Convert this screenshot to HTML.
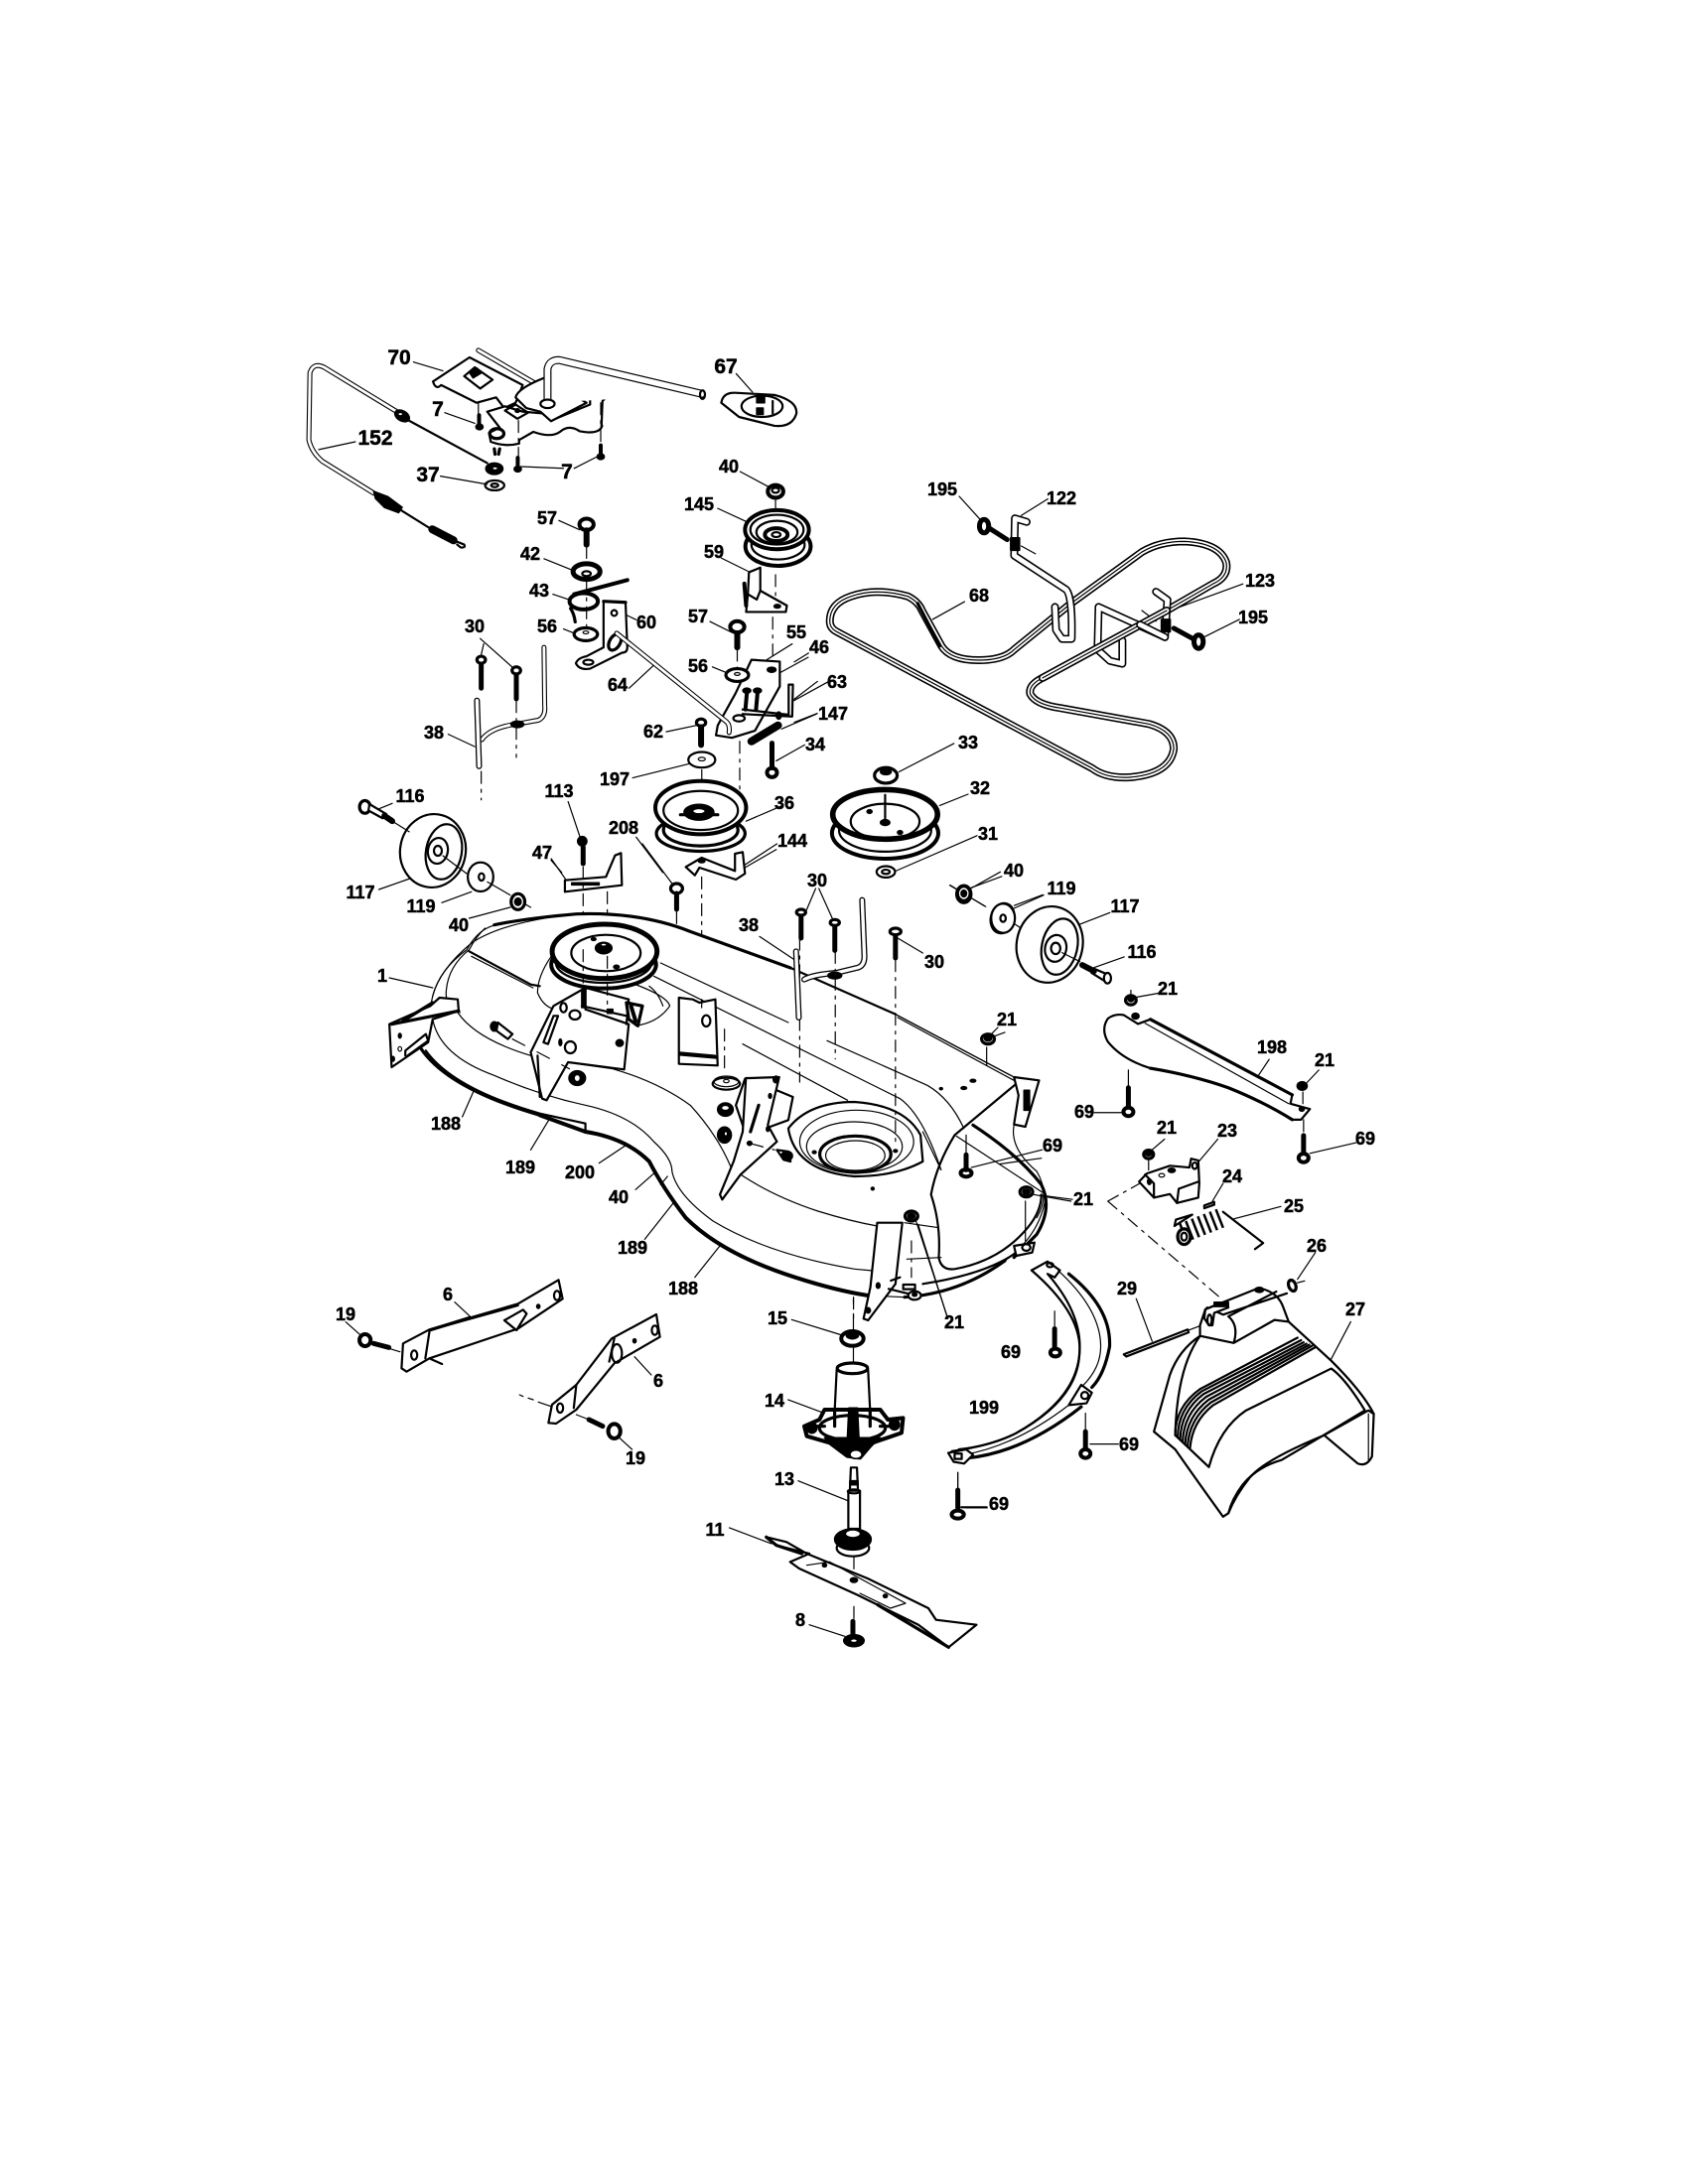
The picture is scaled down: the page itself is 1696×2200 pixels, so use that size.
<!DOCTYPE html>
<html><head><meta charset="utf-8"><style>
html,body{margin:0;padding:0;background:#fff;width:1696px;height:2200px;overflow:hidden}
svg{display:block}
path,line,ellipse,polyline,polygon,rect{vector-effect:non-scaling-stroke;stroke:#000;stroke-width:1.6;fill:none;stroke-linejoin:round;stroke-linecap:round}
.f{fill:#fff}.b{fill:#000}
.k1{stroke-width:1.2}.k2{stroke-width:2.2}.k3{stroke-width:3.2}.k4{stroke-width:4}.k5{stroke-width:5}.k6{stroke-width:6}.k7{stroke-width:8}.k8{stroke-width:8}
.wh{stroke:#fff}.w3{stroke:#fff;stroke-width:2.8}.w4{stroke:#fff;stroke-width:3.4}.w5{stroke:#fff;stroke-width:4.8}.w6{stroke:#fff;stroke-width:5.6}
.d{stroke-dasharray:12 6 3 6;stroke-width:1.2}
text{font-family:"Liberation Sans",sans-serif;font-weight:bold;font-size:18px;text-anchor:middle;fill:#000;stroke:#000;stroke-width:.5}
text.l{font-size:21px}
</style></head><body>
<svg width="1696" height="2200" viewBox="0 0 1696 2200" xmlns="http://www.w3.org/2000/svg">

<!-- Left wheel 117 -->
<ellipse class="f k2" cx="436" cy="857" rx="33" ry="37" transform="rotate(10 436 857)"/>
<ellipse class="k2" cx="447" cy="858" rx="18" ry="28" transform="rotate(10 447 858)"/>
<ellipse class="k2" cx="441" cy="857" rx="10" ry="13" transform="rotate(10 441 857)"/>
<ellipse class="k2" cx="441" cy="857" rx="4" ry="5"/>
<line class="k1" x1="446" y1="862" x2="470" y2="880"/>

<!-- Zone 1 -->
<g transform="translate(280,320) scale(.35714)">
<path class="k5" d="M335,265 L130,140 Q100,125 90,155 L87,345 Q95,380 125,405 L270,495"/>
<path class="w3" d="M335,265 L130,140 Q100,125 90,155 L87,345 Q95,380 125,405 L270,495"/>
<ellipse class="b" cx="350" cy="277" rx="22" ry="14" transform="rotate(30 350 277)"/>
<ellipse class="f" cx="345" cy="272" rx="7" ry="5"/>
<line class="k2" x1="365" y1="288" x2="590" y2="410"/>
<ellipse class="b" cx="610" cy="426" rx="24" ry="16"/><ellipse class="f" cx="612" cy="425" rx="8" ry="5"/>
<ellipse class="f k2" cx="611" cy="473" rx="27" ry="14"/><ellipse class="k2" cx="611" cy="473" rx="10" ry="5"/>
<polygon class="b" points="270,490 310,505 350,535 340,550 300,535 275,510"/>
<line class="k2" x1="345" y1="542" x2="430" y2="595"/>
<line class="k7" x1="435" y1="597" x2="495" y2="628"/>
<path class="k2" d="M495,628 L525,640 Q530,650 515,648 L505,640"/>

<!-- rod behind bracket 70 -->
<line class="k5" x1="565" y1="92" x2="725" y2="185"/><line class="w3" x1="565" y1="92" x2="725" y2="185"/>
<line class="k5" x1="835" y1="262" x2="910" y2="305"/><line class="w3" x1="835" y1="262" x2="910" y2="305"/>
<path class="f k2" d="M437,180 L540,112 L690,190 L670,240 L638,255 L615,225 L560,240 L460,190 Q445,205 437,180Z"/>
<polygon class="k2 f" points="525,165 555,140 605,175 570,200"/>
<polygon class="b" points="540,155 560,142 575,155 550,170"/>
<path class="f k2" d="M590,265 L640,250 L690,265 L745,270 L770,290 L880,245 L880,210 L910,195 L938,212 L915,235 L912,310 Q900,330 850,320 Q820,300 795,322 Q770,340 720,322 L680,345 L680,355 Q640,365 600,350 L595,325 L625,310Z"/>
<path class="f k2" d="M670,225 Q675,200 750,170 L870,240 L770,292 L740,265 L700,255Z"/>
<path class="k2" d="M640,262 L670,245 L705,268 L675,285Z"/>
<ellipse class="k3" cx="617" cy="327" rx="20" ry="14"/>
<ellipse class="b" cx="675" cy="262" rx="6" ry="5"/><ellipse class="b" cx="910" cy="210" rx="6" ry="5"/>
<path class="k3" d="M610,370 L612,385 M625,370 L622,385"/>
<path class="f k8" d="M760,240 L760,145 Q765,118 795,120 L1195,215"/>
<path class="w6" d="M760,240 L760,145 Q765,118 795,120 L1195,215"/>
<ellipse class="f k2" cx="760" cy="243" rx="20" ry="12"/><ellipse class="k2" cx="1197" cy="217" rx="7" ry="12"/>
<line class="d" x1="565" y1="240" x2="565" y2="280"/><line class="d" x1="678" y1="290" x2="678" y2="395"/><line class="d" x1="910" y1="240" x2="910" y2="355"/>
<line class="k4" x1="567" y1="275" x2="567" y2="305"/><ellipse class="b" cx="568" cy="308" rx="10" ry="8"/>
<line class="k4" x1="676" y1="395" x2="676" y2="425"/><ellipse class="b" cx="676" cy="427" rx="10" ry="8"/>
<line class="k4" x1="910" y1="360" x2="910" y2="390"/><ellipse class="b" cx="910" cy="392" rx="10" ry="8"/>
<!-- 67 -->
<path class="f k2" d="M1250,240 Q1255,210 1290,212 L1400,218 Q1465,235 1462,270 Q1450,310 1400,305 L1300,280Z"/>
<ellipse class="k2" cx="1365" cy="250" rx="58" ry="30"/>
<rect class="b" x="1350" y="222" width="22" height="18"/><rect class="b" x="1350" y="255" width="18" height="18"/>
<path class="k2" d="M1395,235 L1395,270"/>
<!-- leaders -->
<path class="k1" d="M382,125 L465,150 M1292,158 L1338,210 M470,268 L555,298 M218,350 L115,372 M685,420 L805,425 M835,425 L900,392 M458,447 L590,470 M1303,434 L1385,478 M1240,538 L1320,575 M792,572 L850,598 M750,680 L830,712 M1250,678 L1325,715 M775,780 L820,795 M1218,857 L1280,888 M985,840 L1010,852 M570,905 L660,985 M580,920 L572,955 M805,878 L835,890 M1378,965 L1450,920 M1345,1040 L1495,958 M1225,985 L1262,1000 M990,1045 L1060,980 M480,1175 L555,1210 M1095,1168 L1180,1150 M1000,1298 L1160,1258 M1455,1080 L1555,1025 M1420,1160 L1518,1118 M1405,1250 L1485,1205 M1320,1420 L1425,1375 M1310,1555 L1405,1500 M1010,1465 L1085,1565 M818,1365 L855,1475 M322,1370 L285,1385 M770,1530 L800,1565"/>
<!-- 40 nut / 145 -->
<ellipse class="k4 f" cx="1403" cy="490" rx="22" ry="18"/><ellipse class="k2" cx="1403" cy="487" rx="10" ry="7"/>
<line class="d" x1="1403" y1="510" x2="1403" y2="545"/>
<ellipse class="k4 f" cx="1410" cy="645" rx="92" ry="55"/><ellipse class="k2" cx="1410" cy="640" rx="75" ry="42"/>
<ellipse class="k4 f" cx="1407" cy="598" rx="90" ry="55"/><ellipse class="k2" cx="1407" cy="598" rx="75" ry="42"/><ellipse class="k2" cx="1407" cy="605" rx="58" ry="32"/>
<ellipse class="k4" cx="1405" cy="612" rx="32" ry="18"/><ellipse class="k2" cx="1405" cy="612" rx="12" ry="7"/>
<line class="d" x1="1403" y1="725" x2="1403" y2="790"/>
<!-- 59 -->
<path class="f k2" d="M1328,718 L1360,705 L1360,770 L1435,812 L1432,830 L1320,830 L1325,780Z"/>
<line class="k4" x1="1315" y1="750" x2="1320" y2="812"/><path class="k2" d="M1325,780 L1350,795 L1360,770"/><ellipse class="b" cx="1408" cy="814" rx="9" ry="5"/>
<line class="d" x1="1395" y1="845" x2="1395" y2="960"/>
<!-- 57 42 43 56 -->
<ellipse class="k4 f" cx="870" cy="583" rx="20" ry="16"/>
<line class="k6" x1="870" y1="600" x2="870" y2="640"/><line class="d" x1="870" y1="645" x2="870" y2="690"/>
<ellipse class="k5 f" cx="870" cy="716" rx="38" ry="22"/><ellipse class="k2" cx="870" cy="722" rx="12" ry="7"/>
<path class="k4" d="M835,780 L985,740"/>
<ellipse class="k4" cx="862" cy="800" rx="40" ry="23"/><path class="k3" d="M825,820 Q835,835 838,858"/>
<line class="d" x1="870" y1="740" x2="870" y2="875"/>
<ellipse class="k3 f" cx="868" cy="893" rx="33" ry="18"/><ellipse class="k1" cx="868" cy="888" rx="8" ry="4"/>
<!-- 60 -->
<path class="f k2" d="M918,800 L980,803 L985,930 Q985,945 970,945 L880,990 Q850,995 840,975 Q845,960 870,955 L918,930Z"/>
<ellipse class="k2" cx="948" cy="833" rx="8" ry="8"/><ellipse class="k2" cx="875" cy="972" rx="14" ry="7"/>
<line class="k3" x1="918" y1="800" x2="980" y2="803"/>
<ellipse class="k3 f" cx="950" cy="915" rx="15" ry="25" transform="rotate(30 950 915)"/>
<!-- 55 plate -->
<path class="f k2" d="M1335,965 L1415,970 L1415,1040 L1345,1165 L1280,1185 L1235,1178 L1240,1150 L1290,1060Z"/>
<ellipse class="b" cx="1392" cy="993" rx="12" ry="7"/><ellipse class="k2" cx="1300" cy="1130" rx="16" ry="9"/>
<path class="k2" d="M1310,1105 L1440,1120 L1440,1035 L1452,1035 L1450,1125 L1310,1118"/>
<line class="k4" x1="1322" y1="1060" x2="1318" y2="1105"/><line class="k4" x1="1352" y1="1060" x2="1348" y2="1105"/>
<ellipse class="b" cx="1322" cy="1052" rx="11" ry="7"/><ellipse class="b" cx="1352" cy="1052" rx="11" ry="7"/>
<ellipse class="k3 f" cx="1295" cy="1008" rx="32" ry="18"/><ellipse class="k1" cx="1295" cy="1005" rx="8" ry="4"/>
<ellipse class="k4 f" cx="1295" cy="872" rx="20" ry="16"/><line class="k6" x1="1295" y1="890" x2="1295" y2="930"/>
<line class="d" x1="1295" y1="935" x2="1295" y2="990"/>
<!-- 64 rod -->
<path class="k5" d="M955,890 L1265,1140 Q1275,1150 1272,1170"/><path class="w3" d="M955,890 L1265,1140 Q1275,1150 1272,1170"/>
<!-- 147 / 34 -->
<line class="k7" x1="1335" y1="1195" x2="1410" y2="1150"/><ellipse class="b" cx="1412" cy="1122" rx="7" ry="10"/>
<line class="k5" x1="1393" y1="1200" x2="1393" y2="1270"/><ellipse class="k4" cx="1393" cy="1283" rx="14" ry="13"/>
<line class="d" x1="1302" y1="1195" x2="1302" y2="1330"/>
<!-- 62, 197 -->
<ellipse class="f k3" cx="1193" cy="1142" rx="13" ry="10"/><line class="k6" x1="1193" y1="1155" x2="1193" y2="1205"/>
<ellipse class="f k2" cx="1195" cy="1247" rx="38" ry="22"/><ellipse class="k1" cx="1195" cy="1245" rx="10" ry="5"/>
<line class="d" x1="1195" y1="1275" x2="1195" y2="1345"/>
<!-- 38 30 -->
<line class="k5" x1="573" y1="975" x2="573" y2="1045"/><ellipse class="f k3" cx="573" cy="965" rx="12" ry="10"/>
<line class="k5" x1="672" y1="1005" x2="672" y2="1075"/><ellipse class="f k3" cx="672" cy="995" rx="12" ry="10"/>
<line class="d" x1="672" y1="1080" x2="672" y2="1240"/><line class="d" x1="573" y1="1280" x2="573" y2="1360"/>
<path class="k5" d="M575,1190 Q600,1155 680,1145 L735,1135 Q755,1125 752,1095 L750,930"/><path class="w3" d="M575,1190 Q600,1155 680,1145 L735,1135 Q755,1125 752,1095 L750,930"/>
<path class="k6" d="M561,1080 L567,1265"/><path class="w4" d="M561,1080 L567,1265"/>
<ellipse class="b" cx="675" cy="1147" rx="18" ry="9"/>
<!-- 116 bolt left -->
<ellipse class="f k3" cx="245" cy="1380" rx="15" ry="18"/>
<path class="k2 f" d="M258,1372 L305,1400 L295,1412 L255,1390Z"/><line class="k6" x1="300" y1="1405" x2="322" y2="1420"/>
<line class="k1" x1="322" y1="1420" x2="370" y2="1450"/>
<!-- pulley 36 -->
<ellipse class="k3 f" cx="1192" cy="1455" rx="125" ry="50"/><ellipse class="k3" cx="1192" cy="1445" rx="105" ry="45"/>
<ellipse class="k4 f" cx="1192" cy="1382" rx="128" ry="75"/><ellipse class="k2" cx="1192" cy="1390" rx="105" ry="55"/>
<ellipse class="b" cx="1187" cy="1395" rx="42" ry="22"/><ellipse class="f" cx="1187" cy="1392" rx="18" ry="8"/>
<path class="k3" d="M1135,1402 L1240,1402"/>
</g>

<!-- Zone 2 -->
<g transform="translate(800,440) scale(.35714)">
<path class="k1" d="M465,168 L530,240 M715,175 L640,222 M480,465 L390,515 M1265,415 L1060,490 M1255,515 L1155,565 M450,865 L295,945 M490,1008 L410,1040 M515,1125 L285,1225 M585,1240 L498,1272 M700,1292 L620,1322 M890,1342 L805,1375 M930,1467 L845,1497 M65,690 L0,740 M65,780 L0,805 M40,610 L0,635"/>
<path class="k7" d="M100,520 Q100,470 160,450 Q230,425 320,450 Q350,465 360,490 L415,590 Q440,630 520,630 Q590,630 620,600 L780,470 L980,325 Q1030,295 1100,295 Q1200,300 1218,355 Q1225,395 1180,415 L1050,490 L700,680 Q660,700 665,725 Q680,755 750,765 L1000,810 Q1070,830 1070,880 Q1060,950 950,960 Q880,965 840,935 L120,550 Q100,540 100,520Z"/>
<path class="w5" d="M100,520 Q100,470 160,450 Q230,425 320,450 Q350,465 360,490 L415,590 Q440,630 520,630 Q590,630 620,600 L780,470 L980,325 Q1030,295 1100,295 Q1200,300 1218,355 Q1225,395 1180,415 L1050,490 L700,680 Q660,700 665,725 Q680,755 750,765 L1000,810 Q1070,830 1070,880 Q1060,950 950,960 Q880,965 840,935 L120,550 Q100,540 100,520Z"/>
<path class="k1" d="M100,520 Q100,470 160,450 Q230,425 320,450 Q350,465 360,490 L415,590 Q440,630 520,630 Q590,630 620,600 L780,470 L980,325 Q1030,295 1100,295 Q1200,300 1218,355 Q1225,395 1180,415 L1050,490 L700,680 Q660,700 665,725 Q680,755 750,765 L1000,810 Q1070,830 1070,880 Q1060,950 950,960 Q880,965 840,935 L120,550 Q100,540 100,520Z"/>
<path class="k3" d="M348,470 L410,590"/>
<!-- rod 122 -->
<path class="k7" d="M655,240 L622,230 L620,335 L765,430 Q785,445 782,570 L755,570 L738,545 L735,480"/>
<path class="w5" d="M655,240 L622,230 L620,335 L765,430 Q785,445 782,570 L755,570 L738,545 L735,480"/>
<line class="k1" x1="640" y1="308" x2="680" y2="330"/>
<!-- rod 123 -->
<path class="k7" d="M925,575 L925,640 L890,632 L855,600 L858,480 L1045,565 L1052,460 L1020,437"/>
<path class="w5" d="M925,575 L925,640 L890,632 L855,600 L858,480 L1045,565 L1052,460 L1020,437"/>
<line class="k1" x1="980" y1="490" x2="1020" y2="520"/>
<!-- belts re-overlap -->
<path class="k7" d="M700,680 L1050,490"/><path class="w5" d="M700,680 L1050,490"/><path class="k1" d="M700,680 L1050,490"/>
<path class="k7" d="M1045,565 L975,530"/><path class="w5" d="M1045,565 L975,530"/>
<rect class="b" x="610" y="285" width="25" height="35"/><rect class="b" x="1035" y="515" width="25" height="35"/>
<ellipse class="k5 f" cx="535" cy="252" rx="13" ry="19"/><line class="k5" x1="550" y1="258" x2="600" y2="290"/>
<ellipse class="k5 f" cx="1140" cy="578" rx="13" ry="19"/><line class="k5" x1="1125" y1="570" x2="1070" y2="540"/>
<!-- 33 nut -->
<ellipse class="k3 f" cx="258" cy="955" rx="32" ry="22"/><ellipse class="b" cx="258" cy="945" rx="15" ry="8"/>
<!-- pulley 32 -->
<ellipse class="k4 f" cx="256" cy="1118" rx="150" ry="72"/><ellipse class="k2" cx="256" cy="1110" rx="130" ry="60"/>
<ellipse class="k4 f" cx="256" cy="1065" rx="150" ry="72"/><ellipse class="k2" cx="256" cy="1065" rx="143" ry="65"/>
<ellipse class="k2" cx="256" cy="1085" rx="97" ry="50"/><ellipse class="b" cx="256" cy="1088" rx="13" ry="8"/><line class="k2" x1="256" y1="1010" x2="256" y2="1085"/>
<ellipse class="b" cx="212" cy="1057" rx="7" ry="5"/><ellipse class="b" cx="298" cy="1116" rx="7" ry="5"/>
<!-- 31 -->
<ellipse class="k2 f" cx="258" cy="1227" rx="26" ry="16"/><ellipse class="k2" cx="258" cy="1227" rx="11" ry="6"/>
<!-- 40, 119, 117, 116 -->
<line class="k1" x1="438" y1="1265" x2="540" y2="1325"/>
<ellipse class="k3 f" cx="478" cy="1290" rx="20" ry="24"/><ellipse class="b" cx="478" cy="1288" rx="9" ry="11"/>
<ellipse class="f k2" cx="587" cy="1358" rx="33" ry="43" transform="rotate(15 587 1358)"/><ellipse class="k2" cx="590" cy="1358" rx="9" ry="13"/>
<line class="k1" x1="615" y1="1370" x2="645" y2="1390"/>
<ellipse class="f k2" cx="720" cy="1432" rx="93" ry="108" transform="rotate(12 720 1432)"/>
<ellipse class="k2" cx="748" cy="1438" rx="50" ry="80" transform="rotate(12 748 1438)"/>
<ellipse class="k2" cx="737" cy="1443" rx="30" ry="38" transform="rotate(12 737 1443)"/><ellipse class="k2" cx="737" cy="1443" rx="13" ry="16"/>
<line class="k1" x1="755" y1="1455" x2="805" y2="1480"/>
<line class="k6" x1="812" y1="1490" x2="845" y2="1507"/>
<path class="k2" d="M845,1500 L880,1515 M838,1512 L875,1535"/><ellipse class="k2 f" cx="883" cy="1527" rx="10" ry="15"/>
</g>

<!-- Zone 3: deck -->
<g transform="translate(360,850) scale(.45918,.33333)">
<path class="k1" d="M47,138 L115,105 M185,178 L250,145 M245,225 L335,192 M425,45 L458,110 M625,0 L690,120 M920,0 L848,65 M1005,135 L985,200 M1012,135 L1043,230 M882,280 L958,350 M1240,330 L1185,285 M1420,570 L1390,585 M1500,950 L1345,980 M1410,85 L1345,135 M1505,155 L1440,195 M70,405 L165,435 M305,590 L230,825 M470,720 L380,925 M780,735 L530,965 M795,820 L610,1045 M805,890 L630,1195 M945,955 L740,1310"/>
<ellipse class="f k2" cx="270" cy="100" rx="28" ry="44"/><ellipse class="k2" cx="272" cy="100" rx="6" ry="11"/>
<line class="k1" x1="285" y1="115" x2="335" y2="155"/>
<ellipse class="k3 f" cx="352" cy="175" rx="15" ry="24"/><ellipse class="b" cx="352" cy="175" rx="7" ry="11"/>
<line class="k1" x1="365" y1="180" x2="380" y2="192"/>
<!-- 47 -->
<path class="f k2" d="M455,110 L545,100 L565,35 L578,28 L580,125 L455,145Z"/>
<rect class="b" x="470" y="118" width="60" height="6"/>
<ellipse class="b" cx="493" cy="-8" rx="10" ry="14"/><line class="k5" x1="495" y1="10" x2="495" y2="60"/>
<line class="d" x1="495" y1="70" x2="495" y2="300"/><line class="d" x1="548" y1="145" x2="548" y2="290"/>
<!-- 144 -->
<path class="f k2" d="M720,70 L755,42 L828,82 L828,30 L845,25 L850,90 L830,108 L750,72 L740,95Z"/><ellipse class="b" cx="755" cy="52" rx="7" ry="5"/>
<line class="d" x1="755" y1="100" x2="755" y2="470"/>
<!-- 208 -->
<ellipse class="f k3" cx="700" cy="135" rx="13" ry="15"/><line class="k5" x1="700" y1="150" x2="700" y2="198"/><line class="d" x1="700" y1="205" x2="700" y2="285"/><ellipse class="b" cx="702" cy="289" rx="4" ry="4"/>
<!-- Deck -->
<path class="f k1" d="M250,300 Q320,235 480,212 Q620,205 730,265 L950,375 L1180,515 L1440,705 L1310,880 L1510,1060 Q1500,1180 1420,1260 Q1320,1360 1200,1370 L1120,1365 Q1050,1350 960,1310 Q800,1240 720,1130 Q670,1040 640,960 Q590,890 500,870 L400,820 Q200,740 140,620 L165,460 Q180,380 250,300Z"/>
<path style="stroke:#fff;stroke-width:3" d="M1440,705 L1310,880"/>
<path class="k3" d="M300,245 Q370,225 480,212 Q620,205 730,265 L950,375"/>
<path class="k2" d="M950,375 L1180,515"/>
<path class="k1" d="M1180,515 L1440,705 M1185,525 L1440,715"/>
<path class="k1" d="M305,245 Q265,255 240,320 Q180,380 165,460"/>
<path class="k1" d="M280,255 Q260,280 245,320 Q200,370 195,440 Q190,490 225,510"/>
<path class="k3" d="M140,620 Q200,740 400,820"/>
<path class="k2" d="M150,625 Q210,740 400,815 L500,845 L500,870"/>
<path class="k4" d="M400,820 L500,870 Q590,890 640,960 Q670,1040 720,1130 Q800,1240 960,1310 Q1050,1350 1120,1365"/>
<path class="k3" d="M1200,1370 Q1320,1360 1420,1260"/>
<path class="k2" d="M1240,1330 Q1380,1300 1445,1235"/>
<path class="k3" d="M1350,850 Q1450,940 1500,1030 Q1525,1100 1490,1180 L1440,1250"/>
<path class="k1" d="M1440,850 Q1430,920 1490,990 Q1520,1060 1490,1130"/>
<path class="k1" d="M165,530 Q180,640 300,700 Q400,760 500,790 Q600,820 650,900 Q690,950 690,990 Q700,1060 780,1140 Q900,1240 1090,1285 L1130,1290"/>
<path class="k1" d="M220,510 Q260,590 380,640"/>
<path class="k1" d="M680,1005 L665,1030 M1280,1250 L1205,1255 M1275,1160 L1200,1145"/>
<path class="k1" d="M460,660 L560,680 Q660,720 730,790 Q790,880 820,980 Q900,1060 1010,1110 Q1080,1140 1140,1155"/>
<path class="k2" d="M245,325 L380,425 L400,430"/><path class="k1" d="M250,340 L385,435"/>
<path class="k1" d="M665,360 L945,540 M650,400 L1190,770 Q1240,820 1280,985 M845,605 L1075,775 M1030,595 L1250,730 Q1300,770 1330,860"/>
<path class="k1" d="M1240,870 L1280,985"/>
<!-- spindle -->
<path class="k2" d="M945,860 Q990,780 1090,780 Q1200,790 1235,880 L1240,960 Q1180,1005 1090,1005 Q960,990 945,860Z"/>
<ellipse class="k1" cx="1095" cy="900" rx="125" ry="95"/>
<ellipse class="k1" cx="1090" cy="915" rx="105" ry="75"/>
<ellipse class="k3" cx="1092" cy="938" rx="78" ry="55"/><ellipse class="k1" cx="1092" cy="942" rx="65" ry="45"/>
<ellipse class="b" cx="1002" cy="932" rx="4" ry="4"/><ellipse class="b" cx="1180" cy="928" rx="4" ry="4"/><ellipse class="b" cx="1130" cy="1042" rx="3" ry="4"/>
<!-- right side -->
<path class="k2" d="M1445,725 L1310,880 Q1270,970 1258,1060 Q1280,1150 1275,1250 Q1280,1290 1310,1285 Q1410,1260 1470,1160 Q1500,1110 1500,1060"/>
<path class="f k2" d="M1440,705 L1495,715 L1465,855 L1440,848 L1450,760Z"/><rect class="b" x="1462" y="745" width="12" height="60"/>
<ellipse class="b" cx="1280" cy="740" rx="3" ry="3"/><ellipse class="b" cx="1330" cy="738" rx="6" ry="4"/><ellipse class="b" cx="1350" cy="716" rx="6" ry="4"/>
<ellipse class="k3 f" cx="1383" cy="590" rx="14" ry="15"/><ellipse class="b" cx="1383" cy="588" rx="8" ry="8"/><line class="k1" x1="1380" y1="615" x2="1380" y2="670"/>
<line class="d" x1="1180" y1="350" x2="1180" y2="900"/>
<ellipse class="f k3" cx="1180" cy="265" rx="12" ry="10"/><line class="k5" x1="1180" y1="280" x2="1180" y2="345"/>
<line class="k1" x1="1335" y1="880" x2="1335" y2="935"/>
<line class="k5" x1="1335" y1="940" x2="1335" y2="985"/><ellipse class="k4" cx="1335" cy="995" rx="12" ry="11"/>
<ellipse class="k3 f" cx="1467" cy="1052" rx="14" ry="15"/><ellipse class="b" cx="1467" cy="1052" rx="8" ry="8"/>
<line class="k1" x1="1483" y1="1060" x2="1565" y2="1080"/><line class="k1" x1="1465" y1="1080" x2="1465" y2="1200"/>
<ellipse class="k3 f" cx="1215" cy="1125" rx="14" ry="15"/><ellipse class="b" cx="1215" cy="1125" rx="8" ry="8"/><line class="k1" x1="1225" y1="1140" x2="1295" y2="1435"/>
<path class="f k2" d="M1440,1215 L1485,1205 L1480,1235 L1445,1245Z"/><ellipse class="k2" cx="1467" cy="1220" rx="9" ry="10"/>
<!-- bracket bottom -->
<path class="f k2" d="M1140,1145 L1195,1145 L1180,1330 L1120,1440 L1110,1435 L1125,1340Z"/>
<path class="k2" d="M1170,1320 L1190,1310 M1165,1345 L1195,1355 L1225,1365"/>
<ellipse class="k2 f" cx="1222" cy="1365" rx="14" ry="13"/><ellipse class="b" cx="1222" cy="1362" rx="5" ry="5"/>
<rect class="k2" x="1197" y="1332" width="26" height="14"/>
<ellipse class="b" cx="1120" cy="1410" rx="5" ry="8"/><ellipse class="b" cx="1142" cy="1335" rx="4" ry="8"/>
<line class="d" x1="1088" y1="1370" x2="1088" y2="1440"/>
<line class="d" x1="1215" y1="1200" x2="1215" y2="1310"/>
<!-- left end bracket -->
<path class="f k2" d="M70,545 L160,490 L180,465 L220,470 L222,505 L165,530 L155,600 L75,675Z"/>
<path class="k3" d="M75,545 L222,505"/>
<path class="k2" d="M105,640 L105,625 L150,575 L155,595 L110,640"/>
<ellipse class="b" cx="93" cy="580" rx="3" ry="7"/><ellipse class="b" cx="78" cy="650" rx="3" ry="7"/><ellipse class="k1" cx="93" cy="620" rx="4" ry="7"/>
<path class="k3" d="M100,535 L165,480"/>
<!-- pulley on deck -->
<path class="k1" d="M425,340 Q395,400 395,450 Q410,500 440,500 M600,420 Q680,460 685,490 Q660,540 610,550"/>
<path class="k1" d="M640,430 Q660,450 670,490"/>
<ellipse class="f k4" cx="540" cy="365" rx="115" ry="72"/>
<ellipse class="k2" cx="540" cy="358" rx="105" ry="62"/>
<ellipse class="f k5" cx="542" cy="325" rx="115" ry="82"/>
<ellipse class="k2" cx="545" cy="330" rx="76" ry="55"/>
<ellipse class="b" cx="540" cy="315" rx="18" ry="17"/><ellipse class="f" cx="540" cy="305" rx="7" ry="5"/>
<ellipse class="b" cx="518" cy="288" rx="5" ry="4"/><ellipse class="b" cx="568" cy="372" rx="6" ry="5"/>
<line class="d" x1="495" y1="320" x2="495" y2="420"/><line class="d" x1="548" y1="340" x2="548" y2="500"/>
<!-- plate 1 -->
<path class="f k2" d="M430,490 L500,435 L500,500 L595,545 L585,682 L462,660 L415,775 L405,770 L380,630Z"/>
<path class="k2" d="M500,435 L500,500 M500,435 L595,470 L590,545 M492,490 L590,520"/>
<path class="k3 f" d="M590,480 L625,490 L615,550 L595,530Z"/><path class="k4" d="M600,490 L610,535"/>
<rect class="b" x="492" y="440" width="8" height="55"/><rect class="b" x="548" y="500" width="12" height="12"/>
<path class="k2" d="M408,600 L430,520 L440,520 L418,605Z"/><ellipse class="k2" cx="452" cy="495" rx="7" ry="14"/><ellipse class="k2" cx="477" cy="517" rx="12" ry="14"/>
<ellipse class="k2" cx="467" cy="615" rx="12" ry="18"/><ellipse class="b" cx="445" cy="600" rx="3" ry="10"/><ellipse class="b" cx="575" cy="602" rx="8" ry="10"/>
<line class="k2" x1="395" y1="640" x2="400" y2="765"/>
<!-- bolts 188/189 -->
<line class="k1" x1="340" y1="590" x2="465" y2="680" style="stroke-dasharray:14 14"/>
<ellipse class="b" cx="300" cy="552" rx="8" ry="14"/><path class="k2 f" d="M308,540 L340,575 L330,590 L305,565Z"/>
<ellipse class="b" cx="482" cy="708" rx="18" ry="22"/><ellipse class="f" cx="482" cy="708" rx="7" ry="11"/>
<!-- bracket middle -->
<path class="f k2" d="M705,465 L735,470 L750,480 L785,470 L790,670 L705,665Z"/><path class="b" d="M706,630 L785,640 L788,648 L706,638Z"/><ellipse class="k2" cx="765" cy="535" rx="9" ry="17"/><line class="d" x1="755" y1="470" x2="755" y2="495"/>
<line class="d" x1="805" y1="560" x2="805" y2="690"/>
<!-- 200, 40, 189 -->
<ellipse class="f k2" cx="809" cy="725" rx="30" ry="18"/><ellipse class="k1" cx="809" cy="718" rx="27" ry="16"/><ellipse class="k1" cx="809" cy="717" rx="6" ry="5"/>
<ellipse class="b" cx="807" cy="803" rx="17" ry="20"/><ellipse class="f" cx="807" cy="798" rx="9" ry="8"/>
<ellipse class="b" cx="805" cy="880" rx="15" ry="24"/><ellipse class="f" cx="808" cy="876" rx="4" ry="7"/>
<!-- bracket right -->
<path class="f k2" d="M850,710 L915,742 L955,765 L945,835 L905,855 L850,870 L830,790Z"/>
<path class="f k2" d="M852,708 L860,708 L925,705 L900,850 L920,900 L840,1000 L800,1075 L795,1060 L825,960 L845,870Z"/>
<path class="k3" d="M880,790 L862,870"/>
<ellipse class="b" cx="918" cy="712" rx="6" ry="10"/><ellipse class="b" cx="905" cy="762" rx="3" ry="7"/><ellipse class="b" cx="900" cy="862" rx="3" ry="7"/>
<line class="k1" x1="860" y1="905" x2="915" y2="925" style="stroke-dasharray:14 10"/>
<ellipse class="b" cx="860" cy="905" rx="5" ry="6"/>
<path class="k2 f" d="M920,925 L945,930 L950,960 L935,955Z"/><ellipse class="b" cx="942" cy="943" rx="12" ry="14"/>
<!-- 38/30 center -->
<line class="d" x1="970" y1="285" x2="970" y2="720"/><line class="d" x1="1048" y1="325" x2="1048" y2="650"/>
<ellipse class="f k3" cx="973" cy="207" rx="10" ry="9"/><line class="k5" x1="973" y1="220" x2="973" y2="285"/>
<ellipse class="f k3" cx="1047" cy="238" rx="10" ry="9"/><line class="k5" x1="1047" y1="250" x2="1047" y2="322"/>
<path class="k6" d="M980,410 Q1000,395 1050,390 L1095,375 Q1112,370 1112,340 L1107,170"/><path class="w4" d="M980,410 Q1000,395 1050,390 L1095,375 Q1112,370 1112,340 L1107,170"/>
<path class="k6" d="M962,325 L968,525"/><path class="w4" d="M962,325 L968,525"/>
<ellipse class="b" cx="1047" cy="398" rx="15" ry="10"/>
<line class="k1" x1="1300" y1="125" x2="1375" y2="188"/>
<ellipse class="k3 f" cx="1330" cy="150" rx="14" ry="22"/><ellipse class="b" cx="1330" cy="150" rx="6" ry="10"/>
<ellipse class="f k2" cx="1416" cy="225" rx="26" ry="44"/><ellipse class="k2" cx="1416" cy="225" rx="6" ry="11"/>
</g>

<!-- Zone 4 -->
<g transform="translate(880,960) scale(.35714)">
<path class="k1" d="M805,113 L738,125 M350,210 L330,230 M1115,300 L1085,345 M1255,330 L1222,365 M622,450 L705,450 M820,525 L785,555 M970,525 L915,590 M1360,535 L1230,565 M475,555 L275,605 M985,650 L955,700 M1148,715 L1015,750 M1245,845 L1195,920 M740,975 L785,1095 M1345,1040 L1290,1145 M500,1128 L415,1128 M360,1315 L395,1355 M690,1385 L610,1385 M560,695 L470,683 M205,1020 L125,765 M260,1565 L320,1565"/>
<ellipse class="k3 f" cx="725" cy="133" rx="15" ry="13"/><ellipse class="b" cx="725" cy="130" rx="8" ry="7"/><line class="k1" x1="725" y1="105" x2="725" y2="120"/>
<path class="f k2" d="M660,185 Q680,170 705,175 L745,200 L780,187 L1180,400 L1175,425 L1230,440 L1205,470 L1180,470 Q1100,420 1000,380 Q900,345 780,325 Q700,300 660,250 Q640,215 660,185Z"/>
<path class="k3" d="M780,187 L1180,400"/><path class="k1" d="M765,198 L1170,425"/><path class="k3" d="M780,325 Q900,345 1000,380 Q1100,420 1180,470"/>
<ellipse class="b" cx="738" cy="178" rx="10" ry="8"/><ellipse class="b" cx="1207" cy="440" rx="7" ry="6"/>
<ellipse class="b" cx="1208" cy="375" rx="14" ry="12"/>
<line class="d" x1="1210" y1="392" x2="1210" y2="425"/><line class="d" x1="1212" y1="470" x2="1212" y2="505"/>
<line class="k1" x1="718" y1="330" x2="718" y2="378"/>
<line class="k5" x1="718" y1="380" x2="718" y2="430"/><ellipse class="k4 f" cx="718" cy="448" rx="14" ry="12"/>
<line class="k5" x1="1212" y1="515" x2="1212" y2="565"/><ellipse class="k4 f" cx="1212" cy="578" rx="14" ry="12"/>
<!-- 23 -->
<ellipse class="k3 f" cx="775" cy="568" rx="14" ry="12"/><ellipse class="b" cx="775" cy="566" rx="8" ry="6"/><line class="k1" x1="775" y1="585" x2="775" y2="612"/>
<path class="f k2" d="M748,645 L770,622 L835,600 L890,605 L895,580 L915,585 L918,650 L915,690 L855,705 L835,680 L790,690Z"/>
<path class="k2" d="M855,705 L860,665 L915,645 M765,625 L790,650 L790,690"/>
<ellipse class="k2" cx="905" cy="600" rx="7" ry="9"/><ellipse class="k1" cx="812" cy="627" rx="8" ry="5"/><ellipse class="b" cx="840" cy="613" rx="10" ry="6"/><ellipse class="b" cx="777" cy="645" rx="5" ry="8"/>
<path class="d" d="M660,700 L750,650 M660,700 L980,975"/>
<!-- 24, 25 -->
<path class="k2" d="M932,712 L960,702 L960,710 L932,720Z"/>
<path class="k2" d="M848,770 L898,738 L852,752Z M985,730 L1098,818 L1075,835"/>
<path d="M870,790 L985,745" style="stroke-width:20;stroke:#000;stroke-dasharray:2.5 4;stroke-linecap:butt"/>
<ellipse class="f k3" cx="875" cy="800" rx="18" ry="22"/><ellipse class="k2" cx="875" cy="800" rx="8" ry="11"/>
<!-- 199 -->
<path class="f k2" d="M445,895 L490,870 L525,895 L510,915 L490,905 Q590,1020 580,1130 Q570,1260 400,1355 Q330,1390 240,1400"/>
<path class="k2" d="M445,895 Q590,1020 580,1130 Q575,1260 400,1355 Q330,1390 220,1405"/>
<path class="k3" d="M550,905 Q670,1000 665,1110 Q650,1190 615,1225"/><path class="k1" d="M520,895 L530,905 Q640,1010 640,1110 Q640,1170 590,1220"/>
<path class="k3" d="M260,1425 Q420,1410 585,1280"/><path class="k1" d="M255,1415 Q400,1390 550,1275"/>
<path class="f k2" d="M585,1218 L615,1240 L600,1270 L550,1275Z"/><ellipse class="k2" cx="595" cy="1248" rx="10" ry="10"/>
<path class="f k2" d="M210,1410 L260,1400 L280,1415 L255,1440 L225,1435Z"/><rect class="k2" x="228" y="1412" width="20" height="15"/>
<ellipse class="k2" cx="497" cy="880" rx="9" ry="6"/>
<line class="k1" x1="510" y1="1010" x2="510" y2="1058"/><line class="k5" x1="510" y1="1060" x2="510" y2="1110"/><ellipse class="k4 f" cx="512" cy="1127" rx="14" ry="11"/>
<line class="k1" x1="597" y1="1298" x2="597" y2="1345"/><line class="k5" x1="597" y1="1350" x2="597" y2="1395"/><ellipse class="k4 f" cx="597" cy="1412" rx="14" ry="12"/>
<line class="k1" x1="237" y1="1465" x2="237" y2="1510"/><line class="k5" x1="237" y1="1515" x2="237" y2="1565"/>
<!-- 26, 29 -->
<ellipse class="k3 f" cx="1180" cy="938" rx="10" ry="16" transform="rotate(-20 1180 938)"/><line class="k1" x1="1195" y1="930" x2="1215" y2="925"/>
<path class="k2" d="M705,1132 L885,1062 L888,1070 L712,1138Z"/><line class="k1" x1="885" y1="1065" x2="925" y2="1050"/>
<!-- 27 chute -->
<path class="f k2" d="M935,1005 L1085,945 Q1140,955 1155,1000 L1170,1040 L1290,1150 Q1380,1240 1410,1300 L1405,1420 Q1390,1450 1365,1440 L1270,1360 Q1100,1430 1060,1480 Q1020,1530 1000,1580 L985,1590 Q920,1500 850,1400 L790,1350 L835,1190 Q860,1120 920,1080 L920,1050Z"/>
<path class="k2" d="M920,1080 L1015,1100 L1130,1035 L1170,1040 M920,1080 Q855,1170 850,1360 M1000,1025 Q1030,1050 1015,1100 M940,1000 L985,1020 L1165,960 M1000,1025 L1135,955"/>
<path class="f k2" d="M935,1005 L985,985 L1000,1000 L960,1015 L955,1050 L945,1050 L932,1030Z"/>
<rect class="b" x="960" y="985" width="40" height="12"/><ellipse class="k2" cx="947" cy="1035" rx="6" ry="15"/><ellipse class="b" cx="1087" cy="950" rx="12" ry="7"/>
<path class="k2" d="M850,1360 Q850,1280 920,1230 L1195,1085"/>
<path class="k2" d="M857,1366 Q858,1285 925,1236 L1205,1092"/>
<path class="k2" d="M864,1372 Q866,1292 930,1244 L1212,1098"/>
<path class="k2" d="M871,1378 Q874,1300 937,1252 L1220,1102"/>
<path class="k2" d="M878,1385 Q882,1308 944,1260 L1228,1105"/>
<path class="k2" d="M885,1390 Q890,1315 950,1268 L1236,1108"/>
<path class="k2" d="M892,1395 Q898,1322 956,1276 L1245,1112"/>
<path class="k2" d="M850,1360 L945,1450 Q975,1340 1050,1290 L1290,1172 Q1330,1200 1385,1290 Q1270,1360 1150,1430 Q1080,1450 1040,1500 Q1010,1540 1000,1580"/>
<path class="k2" d="M1270,1360 L1395,1290 L1410,1300"/>
<path class="k1" d="M1395,1300 L1395,1430"/>
</g>

<!-- Zone 5 -->
<g transform="translate(310,1240) scale(.5102,.33333)">
<path class="k1" d="M75,275 L108,320 M290,215 L320,258 M615,625 L640,660 M645,380 L678,435 M955,268 L1055,315 M948,510 L1015,548 M968,755 L1066,815 M832,897 L915,945 M990,1190 L1060,1225"/>
<path class="f k2" d="M185,415 L188,340 L240,298 L415,220 L495,148 L503,205 L415,295 L240,385 L195,425Z"/>
<path class="k2" d="M240,305 L232,385 M240,300 L415,225"/><path class="k3" d="M240,300 L320,262"/>
<ellipse class="k2" cx="210" cy="375" rx="6" ry="14"/><ellipse class="k2" cx="492" cy="195" rx="6" ry="14"/><ellipse class="b" cx="455" cy="228" rx="3" ry="6"/>
<path class="k2 f" d="M388,270 L425,238 L432,250 L412,300Z"/>
<line class="k2" x1="240" y1="385" x2="265" y2="402"/>
<ellipse class="k4 f" cx="113" cy="330" rx="11" ry="18"/><line class="k5" x1="130" y1="340" x2="160" y2="352"/><line class="k1" x1="160" y1="355" x2="182" y2="365"/>
<path class="f k2" d="M475,580 L482,525 L530,465 L600,325 L688,252 L695,320 L605,400 L530,540 L490,582Z"/>
<path class="k2" d="M530,465 L525,535 M605,325 L595,395"/><ellipse class="k2" cx="498" cy="535" rx="6" ry="14"/><ellipse class="k2" cx="685" cy="300" rx="6" ry="14"/><ellipse class="b" cx="645" cy="332" rx="3" ry="6"/>
<ellipse class="k2" cx="610" cy="370" rx="10" ry="28"/>
<path class="k1" d="M418,495 L425,500 M435,505 L445,510 M455,517 L480,530" />
<line class="k1" x1="530" y1="555" x2="555" y2="570"/><line class="k5" x1="555" y1="570" x2="582" y2="590"/><ellipse class="k4 f" cx="605" cy="605" rx="12" ry="22"/>
<!-- 15 -->
<line class="k1" x1="1077" y1="205" x2="1077" y2="220" /><line class="k1" x1="1077" y1="250" x2="1077" y2="298"/>
<ellipse class="f k4" cx="1075" cy="325" rx="22" ry="22"/><ellipse class="b" cx="1075" cy="315" rx="12" ry="11"/>
<line class="k1" x1="1077" y1="345" x2="1077" y2="395"/>
<!-- 14 -->
<path class="f k2" d="M1044,420 L1040,545 L1110,545 L1106,420"/><ellipse class="f k3" cx="1075" cy="415" rx="30" ry="16"/>
<path class="f k4" d="M980,590 L1010,570 L1020,540 L1130,540 L1145,570 L1175,565 L1172,610 L1115,640 L1090,685 L1065,680 L1030,640 L985,620Z"/>
<path class="k3" d="M1040,545 L1040,590 M1110,545 L1110,590 M1000,590 L1020,590 M1130,590 L1165,590"/>
<ellipse class="k3" cx="1075" cy="595" rx="65" ry="38"/>
<path class="b" d="M1068,535 L1085,535 L1088,630 L1065,630Z"/>
<path class="b" d="M1020,625 L1130,625 L1095,675 L1060,675Z"/>
<ellipse class="f" cx="1082" cy="675" rx="12" ry="13"/>
<ellipse class="b" cx="995" cy="595" rx="10" ry="16"/><ellipse class="b" cx="1158" cy="585" rx="10" ry="16"/>
<!-- 13 -->
<path class="f k2" d="M1072,715 L1084,715 L1086,785 L1070,785Z"/><rect class="b" x="1070" y="755" width="16" height="12"/>
<rect class="f k2" x="1067" y="785" width="23" height="115"/><ellipse class="k2" cx="1078" cy="787" rx="12" ry="6"/>
<ellipse class="f k2" cx="1076" cy="958" rx="32" ry="25"/>
<ellipse class="b" cx="1076" cy="932" rx="36" ry="32"/><ellipse class="f" cx="1076" cy="915" rx="15" ry="12"/>
<line class="d" x1="1078" y1="985" x2="1078" y2="1050"/>
<!-- 11 blade -->
<path class="f k2" d="M905,925 L945,940 L985,975 L1105,1050 L1225,1140 L1240,1175 L1320,1190 L1265,1258 L1205,1190 L1085,1100 L970,1020 L952,1000 L990,975 L925,950Z"/>
<path class="k3" d="M905,925 L925,950 L975,975 M1125,1130 L1265,1258"/>
<path class="k1" d="M985,1010 L1030,1000 L1180,1125 L1150,1140 L1090,1095 M1180,1125"/>
<ellipse class="b" cx="1078" cy="1055" rx="7" ry="7"/><ellipse class="b" cx="1140" cy="1103" rx="4" ry="5"/><ellipse class="b" cx="1020" cy="1010" rx="4" ry="5"/>
<line class="d" x1="1078" y1="1135" x2="1078" y2="1175"/>
<line class="k5" x1="1076" y1="1180" x2="1076" y2="1220"/><ellipse class="b" cx="1078" cy="1238" rx="20" ry="18"/><ellipse class="f" cx="1078" cy="1238" rx="7" ry="6"/>
<!-- 69 bolt -->
<line class="k1" x1="1283" y1="730" x2="1283" y2="780"/><line class="k4" x1="1283" y1="785" x2="1283" y2="840"/><ellipse class="f k4" cx="1283" cy="857" rx="12" ry="12"/><line class="k2" x1="1290" y1="835" x2="1340" y2="835"/>
</g>

<!-- Labels -->
<g>
<text class="l" x="402" y="367">70</text><text class="l" x="731" y="376">67</text>
<text class="l" x="441" y="419">7</text><text class="l" x="378" y="448">152</text>
<text class="l" x="571" y="482">7</text><text class="l" x="431" y="485">37</text>
<text x="734" y="476">40</text><text x="704" y="514">145</text><text x="551" y="528">57</text>
<text x="534" y="564">42</text><text x="719" y="562">59</text><text x="543" y="601">43</text>
<text x="703" y="627">57</text><text x="651" y="633">60</text><text x="478" y="637">30</text>
<text x="551" y="637">56</text><text x="802" y="643">55</text><text x="825" y="658">46</text>
<text x="703" y="677">56</text><text x="622" y="696">64</text><text x="843" y="693">63</text>
<text x="437" y="744">38</text><text x="839" y="725">147</text><text x="821" y="756">34</text>
<text x="658" y="743">62</text><text x="619" y="791">197</text><text x="413" y="808">116</text>
<text x="563" y="803">113</text><text x="790" y="815">36</text><text x="628" y="840">208</text>
<text x="798" y="853">144</text><text x="546" y="865">47</text>
<text x="949" y="499">195</text><text x="1069" y="508">122</text><text x="986" y="606">68</text>
<text x="1269" y="591">123</text><text x="1262" y="628">195</text><text x="975" y="754">33</text>
<text x="987" y="800">32</text><text x="995" y="846">31</text><text x="1021" y="883">40</text>
<text x="1069" y="901">119</text><text x="1133" y="919">117</text><text x="1150" y="965">116</text>
<text x="823" y="893">30</text><text x="941" y="975">30</text>
<text x="363" y="905">117</text><text x="424" y="919">119</text><text x="462" y="938">40</text>
<text x="385" y="989">1</text><text x="754" y="938">38</text>
<text x="449" y="1138">188</text><text x="524" y="1182">189</text><text x="584" y="1187">200</text>
<text x="623" y="1212">40</text><text x="637" y="1263">189</text><text x="688" y="1304">188</text>
<text x="1176" y="1002">21</text><text x="1014" y="1033">21</text><text x="1281" y="1061">198</text>
<text x="1334" y="1074">21</text><text x="1092" y="1126">69</text><text x="1175" y="1142">21</text>
<text x="1236" y="1145">23</text><text x="1375" y="1153">69</text><text x="1060" y="1160">69</text>
<text x="1241" y="1191">24</text><text x="1091" y="1214">21</text><text x="1303" y="1221">25</text>
<text x="1326" y="1261">26</text><text x="1135" y="1304">29</text><text x="1365" y="1325">27</text>
<text x="1018" y="1368">69</text><text x="991" y="1424">199</text><text x="1137" y="1461">69</text>
<text x="1006" y="1521">69</text><text x="961" y="1338">21</text>
<text x="451" y="1310">6</text><text x="348" y="1330">19</text><text x="663" y="1397">6</text>
<text x="640" y="1475">19</text><text x="783" y="1334">15</text><text x="780" y="1417">14</text>
<text x="790" y="1496">13</text><text x="720" y="1547">11</text><text x="806" y="1638">8</text>
</g>
</svg>
</body></html>
